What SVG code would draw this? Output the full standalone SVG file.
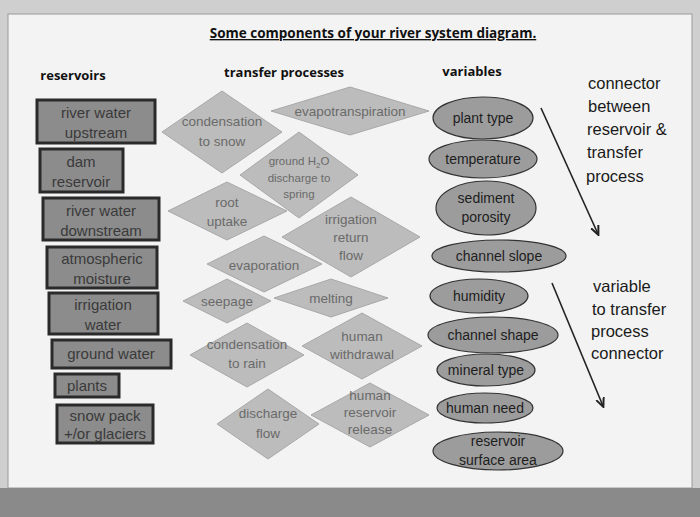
<svg xmlns="http://www.w3.org/2000/svg" width="700" height="517" viewBox="0 0 700 517">
<style>
text{font-family:"Liberation Sans",Arial,sans-serif;text-anchor:middle}
.hd{font-family:"Open Sans","Liberation Sans",sans-serif;font-weight:bold;font-size:13px;fill:#111}
.box rect{fill:#8c8c8c;stroke:#2a2a2a;stroke-width:3}
.box text{font-size:15px;fill:#3a3a3a}
.dia polygon{fill:#bcbcbc;stroke:#a8a8a8;stroke-width:1}
.dia text{font-size:13.5px;fill:#6a6a6a}
.var ellipse{fill:#9c9c9c;stroke:#333;stroke-width:1.2}
.var text{font-size:14px;fill:#1e1e1e}
.note{font-size:16.5px;fill:#1a1a1a;text-anchor:start}
</style>
<defs><marker id="ah" markerWidth="10" markerHeight="10" refX="8" refY="5" orient="auto" markerUnits="userSpaceOnUse"><path d="M0,1 L9,5 L0,9" fill="none" stroke="#222" stroke-width="2"/></marker></defs>
<rect width="700" height="517" fill="#cfcfcf"/>
<rect x="8" y="14" width="684" height="474" fill="#f3f3f3" stroke="#9a9a9a"/>
<rect x="0" y="488" width="700" height="29" fill="#8a8a8a"/>
<text x="373" y="38" style="font-family:'Open Sans','Liberation Sans',sans-serif;font-weight:bold;font-size:13.5px;fill:#111;text-decoration:underline">Some components of your river system diagram.</text>
<text class="hd" x="73" y="80">reservoirs</text>
<text class="hd" x="284" y="77">transfer processes</text>
<text class="hd" x="472" y="76">variables</text>
<g id="r1" class="box"><rect x="37" y="100" width="118" height="43"/><text x="96" y="118">river water</text><text x="96" y="138">upstream</text></g>
<g id="r2" class="box"><rect x="40" y="149" width="83" height="43"/><text x="81" y="167">dam</text><text x="81" y="187">reservoir</text></g>
<g id="r3" class="box"><rect x="43" y="198" width="116" height="42"/><text x="101" y="216">river water</text><text x="101" y="236">downstream</text></g>
<g id="r4" class="box"><rect x="47" y="247" width="110" height="41"/><text x="102" y="264">atmospheric</text><text x="102" y="284">moisture</text></g>
<g id="r5" class="box"><rect x="49" y="293" width="109" height="41"/><text x="103" y="310">irrigation</text><text x="103" y="330">water</text></g>
<g id="r6" class="box"><rect x="52" y="340" width="119" height="28"/><text x="111" y="359">ground water</text></g>
<g id="r7" class="box"><rect x="55" y="374" width="64" height="23"/><text x="87" y="391">plants</text></g>
<g id="r8" class="box"><rect x="57" y="405" width="96" height="38"/><text x="105" y="421">snow pack</text><text x="105" y="439">+/or glaciers</text></g>
<g id="d1" class="dia"><polygon points="222,91 282,132 222,173 162,132"/><text x="222" y="126">condensation</text><text x="222" y="146">to snow</text></g>
<g id="d2" class="dia"><polygon points="350,87 429,111 350,135 271,111"/><text x="350" y="116">evapotranspiration</text></g>
<g id="d3" class="dia"><polygon points="299,132 358,175 299,218 240,175"/><text x="299" y="165" style="font-size:11.5px">ground H<tspan dy="3" font-size="8">2</tspan><tspan dy="-3">O</tspan></text><text x="299" y="182" style="font-size:11.5px">discharge to</text><text x="299" y="198" style="font-size:11.5px">spring</text></g>
<g id="d4" class="dia"><polygon points="227,182 287,211 227,240 168,211"/><text x="227" y="207">root</text><text x="227" y="226">uptake</text></g>
<g id="d5" class="dia"><polygon points="351,197 420,237 351,277 282,237"/><text x="351" y="224">irrigation</text><text x="351" y="242">return</text><text x="351" y="260">flow</text></g>
<g id="d6" class="dia"><polygon points="264,236 322,264 264,292 207,264"/><text x="264" y="270">evaporation</text></g>
<g id="d7" class="dia"><polygon points="227,279 271,301 227,323 183,301"/><text x="227" y="306">seepage</text></g>
<g id="d8" class="dia"><polygon points="331,279 388,298 331,317 274,298"/><text x="331" y="303">melting</text></g>
<g id="d9" class="dia"><polygon points="247,323 304,355 247,387 190,355"/><text x="247" y="349">condensation</text><text x="247" y="368">to rain</text></g>
<g id="d10" class="dia"><polygon points="362,313 422,346 362,379 302,346"/><text x="362" y="341">human</text><text x="362" y="359">withdrawal</text></g>
<g id="d11" class="dia"><polygon points="268,389 319,424 268,459 217,424"/><text x="268" y="418">discharge</text><text x="268" y="438">flow</text></g>
<g id="d12" class="dia"><polygon points="370,383 429,415 370,447 311,415"/><text x="370" y="400">human</text><text x="370" y="417">reservoir</text><text x="370" y="434">release</text></g>
<g id="v1" class="var"><ellipse cx="483" cy="118" rx="50" ry="21"/><text x="483" y="123">plant type</text></g>
<g id="v2" class="var"><ellipse cx="483" cy="159" rx="54" ry="19"/><text x="483" y="164">temperature</text></g>
<g id="v3" class="var"><ellipse cx="486" cy="208" rx="50" ry="27"/><text x="486" y="203">sediment</text><text x="486" y="222">porosity</text></g>
<g id="v4" class="var"><ellipse cx="499" cy="256" rx="67" ry="16"/><text x="499" y="261">channel slope</text></g>
<g id="v5" class="var"><ellipse cx="479" cy="296" rx="49" ry="17"/><text x="479" y="301">humidity</text></g>
<g id="v6" class="var"><ellipse cx="493" cy="335" rx="65" ry="18"/><text x="493" y="340">channel shape</text></g>
<g id="v7" class="var"><ellipse cx="486" cy="370" rx="49" ry="16"/><text x="486" y="375">mineral type</text></g>
<g id="v8" class="var"><ellipse cx="485" cy="408" rx="48" ry="15"/><text x="485" y="413">human need</text></g>
<g id="v9" class="var"><ellipse cx="498" cy="451" rx="65" ry="19"/><text x="498" y="446">reservoir</text><text x="498" y="465">surface area</text></g>
<g id="connectors" stroke="#222" stroke-width="1.6" fill="none">
<line x1="541" y1="108" x2="598" y2="234" marker-end="url(#ah)"/>
<line x1="552" y1="283" x2="603" y2="406" marker-end="url(#ah)"/>
</g>
<text class="note" x="588" y="89">connector</text>
<text class="note" x="588" y="112">between</text>
<text class="note" x="587" y="135">reservoir &amp;</text>
<text class="note" x="587" y="158">transfer</text>
<text class="note" x="586" y="182">process</text>
<text class="note" x="593" y="292">variable</text>
<text class="note" x="592" y="315">to transfer</text>
<text class="note" x="591" y="337">process</text>
<text class="note" x="591" y="359">connector</text>
</svg>
